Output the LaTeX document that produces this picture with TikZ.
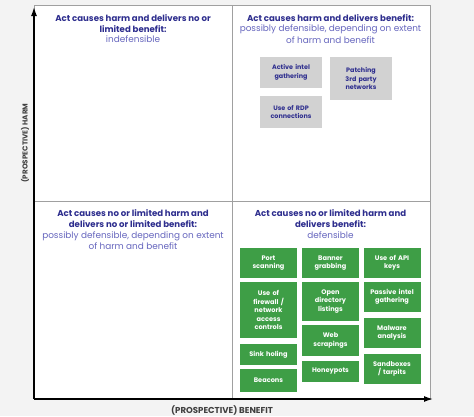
\documentclass[tikz,border=0pt]{standalone}
\usepackage{fontspec}
\setmainfont{Poppins}
\usetikzlibrary{arrows.meta,positioning}
\definecolor{navy}{HTML}{2E2E8E}
\definecolor{lavender}{HTML}{6666BE}
\definecolor{leaf}{HTML}{3E9E46}
\definecolor{stone}{HTML}{D2D2D2}
\definecolor{paper}{HTML}{F3F3F3}
\definecolor{rule}{HTML}{A0A0A0}
\tikzset{
    head/.style={font=\bfseries\fontsize{8.6}{11.3}\selectfont, text=navy, align=center, inner sep=0pt},
    sub/.style={font=\fontsize{8.9}{11.8}\selectfont, text=lavender, align=center, inner sep=0pt},
    greenbox/.style={fill=leaf, text=white, font=\bfseries\fontsize{6.6}{8.5}\selectfont,
        align=center, text width=52pt, inner xsep=2.5pt, inner ysep=0pt},
    graybox/.style={fill=stone, text=navy, font=\bfseries\fontsize{6.4}{8.5}\selectfont,
        align=center, text width=57pt, inner xsep=2.5pt, inner ysep=0pt},
    axislabel/.style={font=\bfseries\fontsize{7.2}{8}\selectfont, text=black!75, inner sep=0pt},
    axis/.style={line width=1.4pt, -{Latex[length=9pt,width=6pt]}}
}

\begin{document}
\begin{tikzpicture}[x=1pt,y=-1pt]
    \useasboundingbox (0,0) rectangle (474,416);
    \fill[paper] (0,0) rectangle (474,416);
    \filldraw[fill=white, draw=rule, line width=0.8pt] (34,5) rectangle (430,399);
    \draw[rule, line width=0.8pt] (232,5) -- (232,399);
    \draw[rule, line width=0.8pt] (34,201) -- (430,201);

    \coordinate (O) at (34,399);
    \coordinate (yend) at (34,7);
    \coordinate (xend) at (433,399);
    \draw[axis] (O) -- (yend);
    \draw[axis] (O) -- (xend);
    \node[axislabel, rotate=90] (harm) at (25,143) {(PROSPECTIVE) HARM};
    \node[axislabel, font=\bfseries\fontsize{8.6}{9}\selectfont] (benefit) at (222,410) {(PROSPECTIVE) BENEFIT};

    \node[head, anchor=north] (tl) at (133,14) {Act causes harm and delivers no or\\limited benefit:};
    \node[sub, below=3pt of tl] (tlsub) {indefensible};
    \node[head, anchor=north] (tr) at (330.5,14) {Act causes harm and delivers benefit:};
    \node[sub, below=3pt of tr] (trsub) {possibly defensible, depending on extent\\of harm and benefit};
    \node[head, anchor=north] (bl) at (133,209.5) {Act causes no or limited harm and\\delivers no or limited benefit:};
    \node[sub, below=3pt of bl] (blsub) {possibly defensible, depending on extent\\of harm and benefit};
    \node[head, anchor=north] (br) at (330.5,209.5) {Act causes no or limited harm and\\delivers benefit:};
    \node[sub, below=3pt of br] (brsub) {defensible};

    \node[graybox, minimum height=31pt] (active) at (291,72.5) {Active intel\\gathering};
    \node[graybox, minimum height=43pt] (patch) at (361,78.5) {Patching\\3rd party\\networks};
    \node[graybox, minimum height=32pt] (rdp) at (291,112) {Use of RDP\\connections};

    \node[greenbox, minimum height=30pt] (port) at (268.5,263) {Port\\scanning};
    \node[greenbox, minimum height=56pt] (firewall) at (268.5,310) {Use of\\firewall /\\network\\access\\controls};
    \node[greenbox, minimum height=21pt] (sink) at (268.5,354.5) {Sink holing};
    \node[greenbox, minimum height=23pt] (beacons) at (268.5,380.5) {Beacons};
    \node[greenbox, minimum height=30pt] (banner) at (330.5,263) {Banner\\grabbing};
    \node[greenbox, minimum height=39pt] (open) at (330.5,301.5) {Open\\directory\\listings};
    \node[greenbox, minimum height=31pt] (web) at (330.5,340.5) {Web\\scrapings};
    \node[greenbox, minimum height=21pt] (honey) at (330.5,371.5) {Honeypots};
    \node[greenbox, minimum height=30pt] (api) at (392,263) {Use of API\\keys};
    \node[greenbox, minimum height=30pt] (passive) at (392,297) {Passive intel\\gathering};
    \node[greenbox, minimum height=30pt] (malware) at (392,333) {Malware\\analysis};
    \node[greenbox, minimum height=30pt] (sandbox) at (392,369) {Sandboxes\\/ tarpits};
\end{tikzpicture}
\end{document}
